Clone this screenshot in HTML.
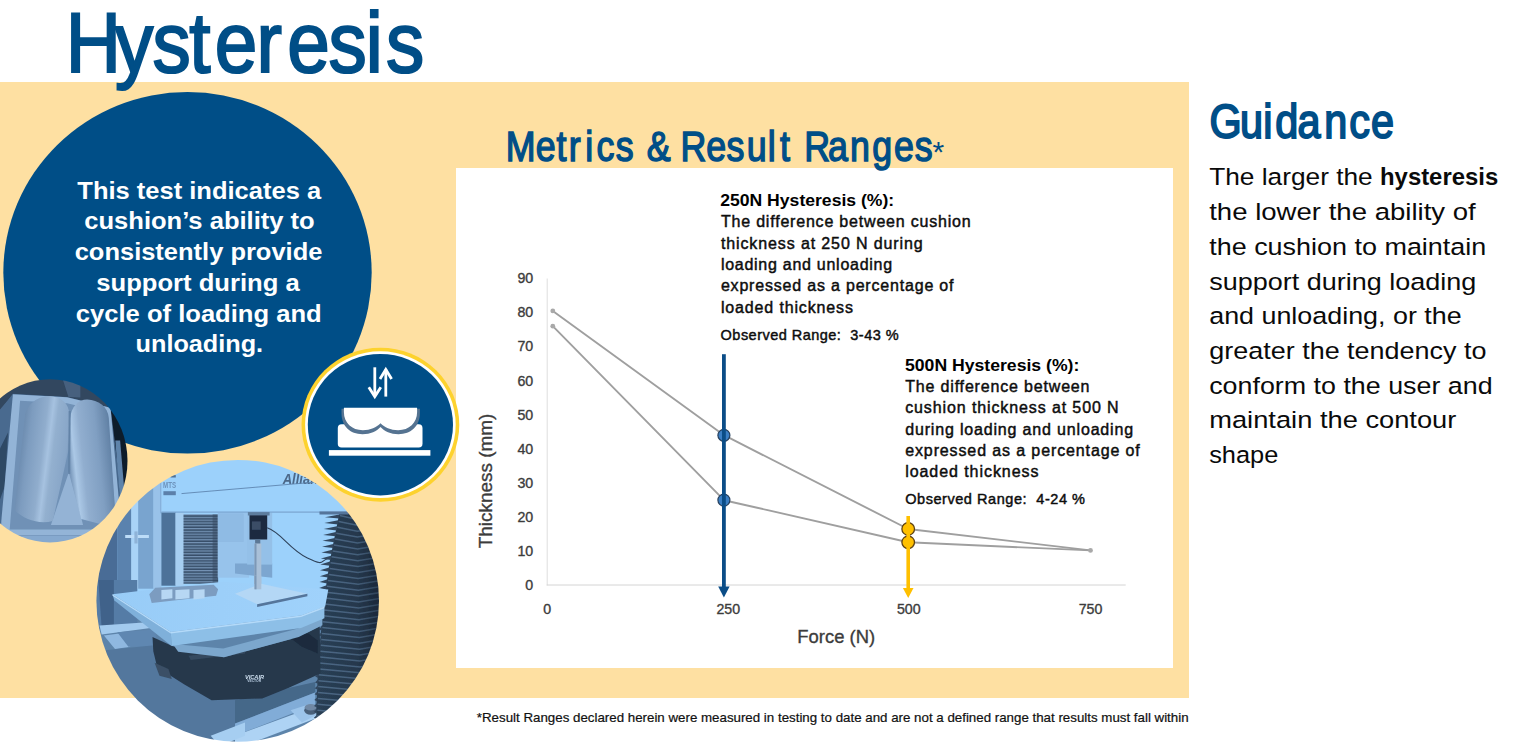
<!DOCTYPE html>
<html lang="en">
<head>
<meta charset="utf-8">
<title>Hysteresis</title>
<style>
  html, body { margin: 0; padding: 0; background: #ffffff; }
  body { width: 1536px; height: 746px; position: relative; overflow: hidden;
         font-family: "Liberation Sans", sans-serif; }
  #band { position: absolute; left: 0; top: 82px; width: 1189px; height: 615.5px; background: #fee0a2; }
  #panel { position: absolute; left: 456px; top: 168px; width: 717px; height: 499.5px; background: #ffffff; }
  svg#art { position: absolute; left: 0; top: 0; width: 1536px; height: 746px; }
  svg text { font-family: "Liberation Sans", sans-serif; }
  .din { fill: #004e87; }
  .ann { fill: #0d0d0d; stroke: #0d0d0d; stroke-width: 0.45px; }
  .annb { fill: #000000; font-weight: bold; }
  .tick { fill: #3c3c3c; }
  .cal { fill: #0a0a0a; }
  .foot { fill: #111111; stroke: #111111; stroke-width: 0.2px; }
</style>
</head>
<body>
<div id="band"></div>
<div id="panel"></div>

<svg id="art" width="1536" height="746" viewBox="0 0 1536 746">
  <!-- ===== big blue circle ===== -->
  <ellipse cx="187.5" cy="272.8" rx="184.2" ry="180.8" fill="#004e87"/>
  <!-- ===== small photo (leg-shaped indenter) ===== -->
  <defs>
    <clipPath id="clipS"><ellipse cx="50" cy="460.8" rx="77.5" ry="81.6"/></clipPath>
    <filter id="softS" x="-5%" y="-5%" width="110%" height="110%"><feGaussianBlur stdDeviation="0.5"/></filter>
    <linearGradient id="cylL" gradientUnits="userSpaceOnUse" x1="17.7" y1="453.8" x2="70.2" y2="460.3"><stop offset="0" stop-color="#6888ac"/><stop offset="0.18" stop-color="#7d9cbf"/><stop offset="0.45" stop-color="#90adcd"/><stop offset="0.56" stop-color="#a6c2e0"/><stop offset="0.66" stop-color="#93b0cf"/><stop offset="0.9" stop-color="#88a6c8"/><stop offset="1" stop-color="#7393b7"/></linearGradient>
    <linearGradient id="cylR" gradientUnits="userSpaceOnUse" x1="69.2" y1="460.3" x2="114.7" y2="455.4"><stop offset="0" stop-color="#7b9abd"/><stop offset="0.12" stop-color="#abc8e6"/><stop offset="0.3" stop-color="#91aecf"/><stop offset="0.65" stop-color="#809fc2"/><stop offset="1" stop-color="#5c7ca0"/></linearGradient>
  </defs>
  <g id="photoS" clip-path="url(#clipS)">
    <g filter="url(#softS)">
      <rect x="-30" y="375" width="165" height="175" fill="#46678c"/>
      <polygon points="0.0,370.7 139.4,370.7 139.4,429.7 110.5,407.7 67.0,397.0 12.9,393.8 0.0,410.9" fill="#30465f"/>
      <polygon points="61.7,376.1 80.4,376.1 80.4,397.5 68.4,397.0" fill="#46607e"/>
      <polygon points="0.0,409.6 12.9,394.3 1.3,523.5 0.0,523.5" fill="#4a6a8f"/>
      <polygon points="0.0,448.5 8.0,432.4 4.8,486.0 0.0,499.4" fill="#2d4865"/>
      <polygon points="110.5,407.7 139.4,429.7 139.4,526.2 122.0,526.2 118.0,467.2" fill="#101b2c"/>
      <polygon points="115.3,440.4 120.1,440.4 126.0,510.1 121.2,514.2" fill="#5f84ab"/>
      <polygon points="12.9,394.3 67.0,397.3 110.5,407.7 119.8,510.1 118.5,535.6 0.8,535.6 1.3,520.9" fill="#93b4d7"/>
      <polygon points="20.1,400.8 67.0,403.2 106.2,412.5 114.7,506.9 113.9,529.4 9.7,529.4" fill="#6f91b6"/>
      <polygon points="0.0,535.6 139.4,535.6 139.4,547.7 0.0,545.0" fill="#86a9cf"/>
      <polygon points="0.0,545.0 139.4,547.7 139.4,563.8 0.0,563.8" fill="#587ea7"/>
      <polygon points="69.2,471.3 50.9,524.9 83.1,524.9" fill="#94b3d5"/>
      <path d="M24.9 417.6 C25.5 402.9 40.2 395.7 49.9 396.2 C60.6 396.5 69.2 402.9 69.4 415.0 L68.6 449.8 L52.8 520.9 C40.2 524.6 24.1 520.1 14.5 510.1 L19.8 461.9 Z" fill="url(#cylL)"/>
      <path d="M70.2 418.4 C71.0 406.1 79.1 399.1 87.4 399.4 C98.1 399.9 107.8 406.1 108.8 417.9 L114.7 504.8 C114.2 515.5 107.8 522.5 99.2 523.8 L81.2 519.0 L69.2 473.9 Z" fill="url(#cylR)"/>
      <path d="M68.6 410.9 L70.8 410.9 L70.2 473.9 L68.1 473.9 Z" fill="#5d7da2" opacity="0.75"/>
    </g>
  </g>
  <!-- ===== large photo (universal test machine with cushion) ===== -->
  <defs>
    <clipPath id="clipL"><ellipse cx="237.7" cy="600.8" rx="141.3" ry="140.9"/></clipPath>
    <filter id="softL" x="-5%" y="-5%" width="110%" height="110%"><feGaussianBlur stdDeviation="0.55"/></filter>
    <pattern id="bellowsA" x="0" y="514" width="40" height="2.8" patternUnits="userSpaceOnUse"><rect width="40" height="2.8" fill="#384f69"/><rect y="0" width="40" height="1.25" fill="#7493b5"/></pattern>
    <pattern id="bellowsB" x="0" y="513" width="80" height="4.1" patternUnits="userSpaceOnUse" patternTransform="skewY(-6)"><rect width="80" height="4.1" fill="#2a3b50"/><rect y="0" width="80" height="1.7" fill="#6f8fb1"/></pattern>
    <linearGradient id="bellowsShade" x1="0" x2="1" y1="0" y2="0"><stop offset="0" stop-color="#1a2738" stop-opacity="0"/><stop offset="0.55" stop-color="#1a2738" stop-opacity="0.15"/><stop offset="1" stop-color="#162130" stop-opacity="0.75"/></linearGradient>
    <linearGradient id="tableTop" x1="0" x2="1" y1="0" y2="0"><stop offset="0" stop-color="#98ccf7"/><stop offset="1" stop-color="#a0d2fb"/></linearGradient>
  </defs>
  <g id="photoL" clip-path="url(#clipL)">
    <g filter="url(#softL)">
      <rect x="90" y="455" width="295" height="291" fill="#9cd1fb"/>
      <rect x="95.0" y="455.0" width="22.1" height="150.0" fill="#486c96"/>
      <rect x="117.1" y="455.0" width="14.5" height="150.0" fill="#5a82ae"/>
      <rect x="131.2" y="501.2" width="7.2" height="87.5" fill="#a9d3f7"/>
      <rect x="138.2" y="455.0" width="15.5" height="133.7" fill="#79a4cf"/>
      <rect x="153.3" y="455.0" width="8.1" height="133.7" fill="#99c2e9"/>
      <rect x="125.2" y="535.0" width="23.7" height="3.0" fill="#bcdcf8"/>
      <rect x="134.4" y="531.4" width="3.2" height="12.1" fill="#8fb3d8"/>
      <rect x="160.0" y="467.1" width="1.2" height="46.2" fill="#86b1dc"/>
      <rect x="161.4" y="512.3" width="14.4" height="73.4" fill="#4e7299"/>
      <rect x="175.4" y="512.9" width="8.5" height="72.8" fill="#a6cef1"/>
      <rect x="183.5" y="514.3" width="34.6" height="69.4" fill="url(#bellowsA)"/>
      <rect x="212.6" y="514.3" width="5.5" height="69.4" fill="#33485f" opacity="0.5"/>
      <rect x="217.7" y="512.5" width="31.4" height="65.2" fill="#97c3eb"/>
      <rect x="218.1" y="513.7" width="24.9" height="28.2" fill="#8ab6e0"/>
      <rect x="218.1" y="513.7" width="25.7" height="28.2" fill="#8fbbe4"/>
      <polygon points="235.0,563.6 272.2,563.6 272.2,577.7 235.0,573.6" fill="#7ca6d0"/>
      <rect x="247.1" y="512.5" width="25.1" height="52.1" fill="#94c0e8"/>
      <rect x="161.4" y="511.5" width="186.2" height="1.2" fill="#7aa4cf"/>
      <rect x="163.4" y="491.2" width="12.4" height="4.0" fill="#5b80aa"/>
      <rect x="170.6" y="475.1" width="5.2" height="2.4" fill="#4e7197"/>
      <text x="163.0" y="488.2" font-size="8.2" font-weight="bold" fill="#6d92bb" textLength="13" lengthAdjust="spacingAndGlyphs">MTS</text>
      <text x="282.7" y="483.8" font-size="14.5" font-style="italic" font-weight="bold" fill="#4b6788" textLength="50" lengthAdjust="spacingAndGlyphs">Alliance</text>
      <line x1="181.5" y1="493.6" x2="315.4" y2="482.1" stroke="#5f86b0" stroke-width="0.9"/>
      <rect x="247.9" y="512.1" width="21.7" height="3.4" fill="#5d7d9e"/>
      <rect x="249.5" y="515.3" width="17.7" height="24.2" fill="#1c2a3f"/>
      <rect x="251.9" y="521.4" width="8.8" height="8.4" fill="#3a4d66"/>
      <rect x="255.1" y="539.5" width="5.2" height="5.0" fill="#5c7896"/>
      <rect x="254.5" y="543.5" width="6.8" height="45.8" fill="#a9c0d8"/>
      <rect x="254.5" y="543.5" width="2.0" height="45.8" fill="#7d98b6"/>
      <path d="M267.2 527.8 C281.2 532.4 289.3 549.5 307.4 558.0 S319.5 561.2 327.9 558.4" fill="none" stroke="#2e425a" stroke-width="1.1"/>
      <polygon points="90,596 385,596 385,746 90,746" fill="#5d84aa"/>
      <polygon points="95.0,580.0 137.3,580.0 137.3,624.5 95.0,627.9" fill="#557ba6"/>
      <polygon points="98.3,580.0 113.9,580.0 113.9,624.5 101.7,627.9" fill="#41628a"/>
      <polygon points="99.5,625.6 147.3,622.3 150.6,627.9 101.7,634.5" fill="#a2caee"/>
      <polygon points="103.9,635.6 119.5,633.4 130.6,646.8 115.0,649.0" fill="#8fb8e0"/>
      <polygon points="117.3,632.3 155.1,629.4 157.3,646.8 128.4,646.8" fill="#5f87b1"/>
      <polygon points="95.0,651.2 161.8,644.5 245.0,704.6 245.0,746.0 95.0,746.0" fill="#52779d"/>
      <polygon points="235.0,700.2 315.1,681.9 315.1,692.4 235.0,723.6" fill="#456789"/>
      <polygon points="235.0,723.6 315.1,692.4 315.1,704.6 235.0,735.8" fill="#81acd7"/>
      <polygon points="235.0,735.8 301.8,711.3 328.5,713.5 235.0,749.2" fill="#aed3f4"/>
      <polygon points="210.7,735.8 245.0,722.4 245.0,735.8 219.6,746.0" fill="#a6cef1"/>
      <polygon points="290.6,710.2 308.4,704.6 319.6,713.5 301.8,722.4" fill="#9cc4ea"/>
      <ellipse cx="310.7" cy="710.2" rx="6.5" ry="4.5" fill="#4a607a"/>
      <ellipse cx="310.7" cy="707.3" rx="6" ry="3.2" fill="#6f88a4"/>
      <polygon points="339.6,512 339.0,515 330.0,560 324.0,600 321.5,625 318.0,669 316.5,705 316.1,725 390,725 390,512" fill="#2a3f55"/>
      <polygon points="339.6,512 339.0,515 330.0,560 324.0,600 321.5,625 318.0,669 316.5,705 316.1,725 390,725 390,512" fill="url(#bellowsShade)"/>
      <polygon points="339.3,514.4 324.9,517.2 339.3,518.6" fill="#31475e"/>
      <polyline points="339.8,515.5 357.0,519.4 388.0,514.5" fill="none" stroke="#52718f" stroke-width="1.5" opacity="0.85"/>
      <polygon points="338.1,520.3 324.3,523.1 338.1,524.5" fill="#31475e"/>
      <polyline points="338.6,521.4 357.1,525.3 388.0,520.4" fill="none" stroke="#52718f" stroke-width="1.5" opacity="0.85"/>
      <polygon points="336.9,526.2 323.7,529.0 336.9,530.4" fill="#31475e"/>
      <polyline points="337.4,527.3 357.3,531.2 388.0,526.3" fill="none" stroke="#52718f" stroke-width="1.5" opacity="0.85"/>
      <polygon points="335.8,532.1 323.1,534.9 335.8,536.3" fill="#31475e"/>
      <polyline points="336.3,533.2 357.4,537.1 388.0,532.2" fill="none" stroke="#52718f" stroke-width="1.5" opacity="0.85"/>
      <polygon points="334.6,538.0 322.5,540.8 334.6,542.2" fill="#31475e"/>
      <polyline points="335.1,539.1 357.5,543.0 388.0,538.1" fill="none" stroke="#52718f" stroke-width="1.5" opacity="0.85"/>
      <polygon points="333.4,543.9 322.0,546.7 333.4,548.1" fill="#31475e"/>
      <polyline points="333.9,545.0 357.6,548.9 388.0,544.0" fill="none" stroke="#52718f" stroke-width="1.5" opacity="0.85"/>
      <polygon points="332.2,549.8 321.4,552.6 332.2,554.0" fill="#31475e"/>
      <polyline points="332.7,550.9 357.7,554.8 388.0,549.9" fill="none" stroke="#52718f" stroke-width="1.5" opacity="0.85"/>
      <polygon points="331.0,555.7 320.8,558.5 331.0,559.9" fill="#31475e"/>
      <polyline points="331.5,556.8 357.8,560.7 388.0,555.8" fill="none" stroke="#52718f" stroke-width="1.5" opacity="0.85"/>
      <polygon points="330.0,561.6 320.3,564.4 330.0,565.8" fill="#31475e"/>
      <polyline points="330.5,562.7 358.0,566.6 388.0,561.7" fill="none" stroke="#52718f" stroke-width="1.5" opacity="0.85"/>
      <polygon points="329.1,567.5 320.0,570.3 329.1,571.7" fill="#31475e"/>
      <polyline points="329.6,568.6 358.1,572.5 388.0,567.6" fill="none" stroke="#52718f" stroke-width="1.5" opacity="0.85"/>
      <polygon points="328.3,573.4 319.8,576.2 328.3,577.6" fill="#31475e"/>
      <polyline points="328.8,574.5 358.2,578.4 388.0,573.5" fill="none" stroke="#52718f" stroke-width="1.5" opacity="0.85"/>
      <polygon points="327.4,579.3 319.5,582.1 327.4,583.5" fill="#31475e"/>
      <polyline points="327.9,580.4 358.3,584.3 388.0,579.4" fill="none" stroke="#52718f" stroke-width="1.5" opacity="0.85"/>
      <polygon points="326.5,585.2 319.2,588.0 326.5,589.4" fill="#31475e"/>
      <polyline points="327.0,586.3 358.4,590.2 388.0,585.3" fill="none" stroke="#52718f" stroke-width="1.5" opacity="0.85"/>
      <polygon points="325.6,591.1 318.9,593.9 325.6,595.3" fill="#31475e"/>
      <polyline points="326.1,592.2 358.6,596.1 388.0,591.2" fill="none" stroke="#52718f" stroke-width="1.5" opacity="0.85"/>
      <polygon points="324.7,597.0 318.6,599.8 324.7,601.2" fill="#31475e"/>
      <polyline points="325.2,598.1 358.7,602.0 388.0,597.1" fill="none" stroke="#52718f" stroke-width="1.5" opacity="0.85"/>
      <polygon points="324.1,602.9 318.5,605.7 324.1,607.1" fill="#31475e"/>
      <polyline points="324.6,604.0 358.8,607.9 388.0,603.0" fill="none" stroke="#52718f" stroke-width="1.5" opacity="0.85"/>
      <polygon points="323.5,608.8 318.5,611.6 323.5,613.0" fill="#31475e"/>
      <polyline points="324.0,609.9 358.9,613.8 388.0,608.9" fill="none" stroke="#52718f" stroke-width="1.5" opacity="0.85"/>
      <polygon points="322.9,614.7 318.5,617.5 322.9,618.9" fill="#31475e"/>
      <polyline points="323.4,615.8 359.0,619.7 388.0,614.8" fill="none" stroke="#52718f" stroke-width="1.5" opacity="0.85"/>
      <polygon points="322.3,620.6 318.5,623.4 322.3,624.8" fill="#31475e"/>
      <polyline points="322.8,621.7 359.1,625.6 388.0,620.7" fill="none" stroke="#52718f" stroke-width="1.5" opacity="0.85"/>
      <polygon points="321.8,626.5 318.6,629.3 321.8,630.7" fill="#31475e"/>
      <polyline points="322.3,627.6 359.3,631.5 388.0,626.6" fill="none" stroke="#52718f" stroke-width="1.5" opacity="0.85"/>
      <polygon points="321.3,632.4 318.3,635.2 321.3,636.6" fill="#31475e"/>
      <polyline points="321.8,633.5 359.4,637.4 388.0,632.5" fill="none" stroke="#52718f" stroke-width="1.5" opacity="0.85"/>
      <polygon points="320.8,638.3 317.8,641.1 320.8,642.5" fill="#31475e"/>
      <polyline points="321.3,639.4 359.5,643.3 388.0,638.4" fill="none" stroke="#52718f" stroke-width="1.5" opacity="0.85"/>
      <polygon points="320.3,644.2 317.3,647.0 320.3,648.4" fill="#31475e"/>
      <polyline points="320.8,645.3 359.6,649.2 388.0,644.3" fill="none" stroke="#52718f" stroke-width="1.5" opacity="0.85"/>
      <polygon points="319.9,650.1 316.9,652.9 319.9,654.3" fill="#31475e"/>
      <polyline points="320.4,651.2 359.7,655.1 388.0,650.2" fill="none" stroke="#52718f" stroke-width="1.5" opacity="0.85"/>
      <polygon points="319.4,656.0 316.4,658.8 319.4,660.2" fill="#31475e"/>
      <polyline points="319.9,657.1 359.9,661.0 388.0,656.1" fill="none" stroke="#52718f" stroke-width="1.5" opacity="0.85"/>
      <polygon points="318.9,661.9 315.9,664.7 318.9,666.1" fill="#31475e"/>
      <polyline points="319.4,663.0 360.0,666.9 388.0,662.0" fill="none" stroke="#52718f" stroke-width="1.5" opacity="0.85"/>
      <polygon points="318.5,667.8 315.5,670.6 318.5,672.0" fill="#31475e"/>
      <polyline points="319.0,668.9 360.1,672.8 388.0,667.9" fill="none" stroke="#52718f" stroke-width="1.5" opacity="0.85"/>
      <polygon points="318.2,673.7 315.2,676.5 318.2,677.9" fill="#31475e"/>
      <polyline points="318.7,674.8 360.2,678.7 388.0,673.8" fill="none" stroke="#52718f" stroke-width="1.5" opacity="0.85"/>
      <polygon points="318.0,679.6 315.0,682.4 318.0,683.8" fill="#31475e"/>
      <polyline points="318.5,680.7 360.3,684.6 388.0,679.7" fill="none" stroke="#52718f" stroke-width="1.5" opacity="0.85"/>
      <polygon points="317.7,685.5 314.7,688.3 317.7,689.7" fill="#31475e"/>
      <polyline points="318.2,686.6 360.4,690.5 388.0,685.6" fill="none" stroke="#52718f" stroke-width="1.5" opacity="0.85"/>
      <polygon points="317.5,691.4 314.5,694.2 317.5,695.6" fill="#31475e"/>
      <polyline points="318.0,692.5 360.6,696.4 388.0,691.5" fill="none" stroke="#52718f" stroke-width="1.5" opacity="0.85"/>
      <polygon points="317.3,697.3 314.3,700.1 317.3,701.5" fill="#31475e"/>
      <polyline points="317.8,698.4 360.7,702.3 388.0,697.4" fill="none" stroke="#52718f" stroke-width="1.5" opacity="0.85"/>
      <polygon points="317.0,703.2 314.0,706.0 317.0,707.4" fill="#31475e"/>
      <polyline points="317.5,704.3 360.8,708.2 388.0,703.3" fill="none" stroke="#52718f" stroke-width="1.5" opacity="0.85"/>
      <polygon points="316.9,709.1 313.9,711.9 316.9,713.3" fill="#31475e"/>
      <polyline points="317.4,710.2 360.9,714.1 388.0,709.2" fill="none" stroke="#52718f" stroke-width="1.5" opacity="0.85"/>
      <polygon points="316.8,715.0 313.8,717.8 316.8,719.2" fill="#31475e"/>
      <polyline points="317.3,716.1 361.0,720.0 388.0,715.1" fill="none" stroke="#52718f" stroke-width="1.5" opacity="0.85"/>
      <polygon points="339.6,512 339.0,515 330.0,560 324.0,600 321.5,625 318.0,669 316.5,705 316.1,725 390,725 390,512" fill="url(#bellowsShade)"/>
      <rect x="319.5" y="511.5" width="29.1" height="3.0" fill="#54759a"/>
      <polygon points="152.5,637.0 172.8,646.3 223.3,657.2 298.7,637.0 319.7,626.1 320.5,673.5 289.4,687.5 262.2,698.4 211.6,700.3 184.4,684.4 157.2,667.3 153.3,651.3" fill="#26384c"/>
      <polygon points="288.4,632.5 308.4,633.4 317.8,640.5 317.8,653.4 301.8,646.8 290.6,638.3" fill="#1b2b3d"/>
      <polygon points="154.6,662.8 168.4,669.0 171.8,679.0 159.5,675.7" fill="#3a4f66"/>
      <polygon points="188.5,655.7 245.0,649.0 245.0,653.4 190.7,660.1" fill="#34495f"/>
      <text x="245.0" y="678.8" font-size="5.6" font-weight="bold" font-style="italic" fill="#cfe0f0" textLength="19" lengthAdjust="spacingAndGlyphs">VICAIR</text>
      <text x="247.2" y="681.5" font-size="2.6" font-weight="bold" fill="#b8cce0" textLength="14" lengthAdjust="spacingAndGlyphs">VECTOR</text>
      <polygon points="172.8,644.0 223.3,648.6 298.0,628.4 322.4,618.3 322.4,625.3 298.7,637.0 224.1,657.2 178.2,651.7" fill="#7ba7cd"/>
      <polygon points="112.5,594.2 170.8,631.9 171.6,645.9 114.4,600.4" fill="#7fb0da"/>
      <polygon points="170.8,631.9 301.1,615.6 324.4,606.6 324.4,618.3 301.1,628.0 171.6,645.9" fill="#8dbfe7"/>
      <polygon points="112.5,594.2 184.4,585.6 223.3,581.7 328.3,589.5 325.2,606.6 301.1,615.6 170.8,631.9" fill="url(#tableTop)"/>
      <polygon points="112.5,594.2 170.8,631.9 170.8,633.5 112.5,595.7" fill="#b4daf9"/>
      <polygon points="170.8,631.9 301.1,615.6 324.4,606.6 324.4,608.2 301.1,617.1 170.8,633.5" fill="#b4daf9"/>
      <polygon points="235.0,593.7 261.1,583.7 307.4,593.7 257.1,604.2" fill="#b4d7f5"/>
      <polygon points="257.1,604.2 307.4,593.7 307.4,596.2 257.1,607.0" fill="#54749a"/>
      <rect x="254.5" y="575.7" width="6.8" height="13.6" fill="#a9c0d8"/>
      <rect x="254.5" y="575.7" width="2.0" height="13.6" fill="#7d98b6"/>
      <polygon points="149.3,594.2 155.3,587.7 213.6,584.7 218.1,589.3 216.1,595.8 151.7,603.0" fill="#7b9cc0"/>
      <polygon points="161.4,590.1 172.4,589.3 172.4,598.2 161.4,599.4" fill="#b7d7f3"/>
      <polygon points="175.4,590.1 189.5,589.3 189.5,598.2 175.4,599.4" fill="#b7d7f3"/>
      <polygon points="193.5,590.1 204.6,589.3 204.6,598.2 193.5,599.4" fill="#b7d7f3"/>
    </g>
  </g>
  <!-- ===== icon badge ===== -->
  <g id="badge">
    <ellipse cx="380.4" cy="424.7" rx="78.9" ry="77" fill="#fdd22e"/>
    <ellipse cx="380.4" cy="424.7" rx="75.3" ry="73.4" fill="#ffffff"/>
    <ellipse cx="380.4" cy="424.7" rx="72.6" ry="70.7" fill="#004e87"/>
    <g stroke="#ffffff" stroke-width="2.8" fill="none" stroke-linecap="butt" stroke-linejoin="miter">
      <path d="M374.8 367.3 V396"/>
      <path d="M368.8 387.2 L374.8 396.6 L380.8 387.2"/>
      <path d="M385.8 396.6 V369.5"/>
      <path d="M380 378.9 L385.8 369.4 L391.6 378.9"/>
    </g>
    <rect x="328.9" y="450.1" width="101.5" height="5.6" fill="#ffffff"/>
    <rect x="337.8" y="424.2" width="84.7" height="23.3" rx="3.8" ry="3.8" fill="#ffffff"/>
    <path d="M341.5 408.8 H419.9 V413 C419.9 426 411 434.2 398.5 434.2 C390.5 434.2 384.5 431.5 380.5 427 C376.5 431.5 370.5 434.2 362.5 434.2 C350 434.2 341.5 426 341.5 413 Z" fill="#557391"/>
    <path d="M343.9 407.8 H417.1 V412 C417.1 423 409 430.2 398.2 430.2 C390.5 430.2 384.5 427.5 380.5 423.3 C376.5 427.5 370.5 430.2 362.8 430.2 C352 430.2 343.9 423 343.9 412 Z" fill="#ffffff"/>
  </g>
  <!-- ===== chart ===== -->
  <g id="chart">
    <line x1="547.2" y1="278.5" x2="547.2" y2="585.4" stroke="#dedede" stroke-width="1"/>
    <line x1="546.7" y1="585" x2="1125.7" y2="585" stroke="#d4d4d4" stroke-width="1"/>
    <g fill="none" stroke="#9f9f9f" stroke-width="1.9" stroke-linejoin="round" stroke-linecap="round">
      <polyline points="552.8,310.9 724,435.2 908.2,529 1090.5,550.4"/>
      <polyline points="552.8,326.2 724,500.2 908.2,542.3 1090.5,550.4"/>
    </g>
    <g fill="#a9a9a9">
      <circle cx="552.8" cy="310.9" r="2.4"/>
      <circle cx="552.8" cy="326.2" r="2.4"/>
      <circle cx="1090.5" cy="550.4" r="2.4"/>
    </g>
    <g>
      <circle cx="723.9" cy="435.3" r="6" fill="#3b7fc4" stroke="#26405e" stroke-width="1.2"/>
      <circle cx="723.9" cy="500.1" r="6" fill="#3b7fc4" stroke="#26405e" stroke-width="1.2"/>
      <line x1="723.9" y1="354.2" x2="723.9" y2="589" stroke="#0b4d87" stroke-width="3.8"/>
      <path d="M718.2 586.6 H729.6 L723.9 597.4 Z" fill="#0b4d87"/>
    </g>
    <g>
      <circle cx="908.2" cy="528.9" r="6.3" fill="#ffc000" stroke="#5e4215" stroke-width="1.3"/>
      <circle cx="908.2" cy="542.3" r="6.3" fill="#ffc000" stroke="#5e4215" stroke-width="1.3"/>
      <line x1="908.2" y1="516" x2="908.2" y2="590" stroke="#ffc000" stroke-width="3.6"/>
      <path d="M902.9 588 H913.5 L908.2 598 Z" fill="#ffc000"/>
    </g>
  </g>
  <!-- ===== text ===== -->
  <g id="texts">
    <text transform="scale(0.9 1)" x="73.1 127.7 169.4 210.4 238.5 285 319.1 364.9 406.4 428.9" y="72.3" font-size="85" class="din" stroke="#004e87" stroke-width="2.1">Hysteresis</text>
    <text transform="scale(0.832 1)" x="607.8 643.9 668.8 683.6 703.5 716.8 740.2 762.8 777.4 801.7 818.0 848.8 873.3 897.6 922.8 937.6 956.1 966.6 995.2 1021.5 1048.3 1074.4 1099.6" y="160.6" font-size="43" class="din" stroke="#004e87" stroke-width="1.5">Metrics &amp; Result Ranges</text>
    <text x="932.6" y="161.5" font-size="30" class="din">*</text>
    <text transform="scale(0.854 1)" x="1416.3 1451.9 1479.1 1493.2 1519.4 1550.6 1579.8 1605.5" y="138.3" font-size="48.5" class="din" stroke="#004e87" stroke-width="1.9">Guidance</text>
    <text x="1209.2" y="185.3" font-size="24.5" textLength="163.5" lengthAdjust="spacingAndGlyphs" class="cal">The larger the</text>
    <text x="1380.0" y="185.3" font-size="24.5" textLength="118.2" lengthAdjust="spacingAndGlyphs" class="cal" font-weight="bold">hysteresis</text>
    <text x="1209.2" y="220.0" font-size="24.5" textLength="266.6" lengthAdjust="spacingAndGlyphs" class="cal">the lower the ability of</text>
    <text x="1209.2" y="254.8" font-size="24.5" textLength="277.1" lengthAdjust="spacingAndGlyphs" class="cal">the cushion to maintain</text>
    <text x="1209.2" y="289.5" font-size="24.5" textLength="267.0" lengthAdjust="spacingAndGlyphs" class="cal">support during loading</text>
    <text x="1209.2" y="324.2" font-size="24.5" textLength="252.5" lengthAdjust="spacingAndGlyphs" class="cal">and unloading, or the</text>
    <text x="1209.2" y="359.0" font-size="24.5" textLength="277.4" lengthAdjust="spacingAndGlyphs" class="cal">greater the tendency to</text>
    <text x="1209.2" y="393.7" font-size="24.5" textLength="283.4" lengthAdjust="spacingAndGlyphs" class="cal">conform to the user and</text>
    <text x="1209.2" y="428.4" font-size="24.5" textLength="247.2" lengthAdjust="spacingAndGlyphs" class="cal">maintain the contour</text>
    <text x="1209.2" y="463.1" font-size="24.5" textLength="69.1" lengthAdjust="spacingAndGlyphs" class="cal">shape</text>
    <text x="77.3" y="198.8" font-size="23.6" font-weight="bold" fill="#ffffff" textLength="243.8" lengthAdjust="spacingAndGlyphs">This test indicates a</text>
    <text x="84.3" y="229.4" font-size="23.6" font-weight="bold" fill="#ffffff" textLength="230.4" lengthAdjust="spacingAndGlyphs">cushion’s ability to</text>
    <text x="74.7" y="260.2" font-size="23.6" font-weight="bold" fill="#ffffff" textLength="247.7" lengthAdjust="spacingAndGlyphs">consistently provide</text>
    <text x="96.3" y="290.8" font-size="23.6" font-weight="bold" fill="#ffffff" textLength="203.4" lengthAdjust="spacingAndGlyphs">support during a</text>
    <text x="75.8" y="321.6" font-size="23.6" font-weight="bold" fill="#ffffff" textLength="245.9" lengthAdjust="spacingAndGlyphs">cycle of loading and</text>
    <text x="135.6" y="352.2" font-size="23.6" font-weight="bold" fill="#ffffff" textLength="127.5" lengthAdjust="spacingAndGlyphs">unloading.</text>
    <text x="476.8" y="722.3" font-size="12.4" textLength="711.8" lengthAdjust="spacingAndGlyphs" class="foot">*Result Ranges declared herein were measured in testing to date and are not a defined range that results must fall within</text>
    <text x="533.2" y="589.9" font-size="14.2" text-anchor="end" class="tick" stroke="#3c3c3c" stroke-width="0.35">0</text>
    <text x="533.2" y="555.8" font-size="14.2" text-anchor="end" class="tick" stroke="#3c3c3c" stroke-width="0.35">10</text>
    <text x="533.2" y="521.8" font-size="14.2" text-anchor="end" class="tick" stroke="#3c3c3c" stroke-width="0.35">20</text>
    <text x="533.2" y="487.7" font-size="14.2" text-anchor="end" class="tick" stroke="#3c3c3c" stroke-width="0.35">30</text>
    <text x="533.2" y="453.6" font-size="14.2" text-anchor="end" class="tick" stroke="#3c3c3c" stroke-width="0.35">40</text>
    <text x="533.2" y="419.5" font-size="14.2" text-anchor="end" class="tick" stroke="#3c3c3c" stroke-width="0.35">50</text>
    <text x="533.2" y="385.5" font-size="14.2" text-anchor="end" class="tick" stroke="#3c3c3c" stroke-width="0.35">60</text>
    <text x="533.2" y="351.4" font-size="14.2" text-anchor="end" class="tick" stroke="#3c3c3c" stroke-width="0.35">70</text>
    <text x="533.2" y="317.3" font-size="14.2" text-anchor="end" class="tick" stroke="#3c3c3c" stroke-width="0.35">80</text>
    <text x="533.2" y="283.3" font-size="14.2" text-anchor="end" class="tick" stroke="#3c3c3c" stroke-width="0.35">90</text>
    <text x="547.1" y="614.4" font-size="14.2" text-anchor="middle" class="tick" stroke="#3c3c3c" stroke-width="0.35">0</text>
    <text x="728.3" y="614.4" font-size="14.2" text-anchor="middle" class="tick" stroke="#3c3c3c" stroke-width="0.35">250</text>
    <text x="908.8" y="614.4" font-size="14.2" text-anchor="middle" class="tick" stroke="#3c3c3c" stroke-width="0.35">500</text>
    <text x="1090.5" y="614.4" font-size="14.2" text-anchor="middle" class="tick" stroke="#3c3c3c" stroke-width="0.35">750</text>
    <text x="797.3" y="642.5" font-size="19" textLength="77.8" lengthAdjust="spacingAndGlyphs" class="tick" stroke="#3c3c3c" stroke-width="0.35">Force (N)</text>
    <text transform="translate(491.9 548.3) rotate(-90)" font-size="18.6" textLength="134.6" lengthAdjust="spacingAndGlyphs" class="tick" stroke="#3c3c3c" stroke-width="0.35">Thickness (mm)</text>
    <text x="720.2" y="205.6" font-size="17.3" textLength="174.0" lengthAdjust="spacingAndGlyphs" class="annb">250N Hysteresis (%):</text>
    <text x="720.9" y="227.1" font-size="16" textLength="249.8" lengthAdjust="spacing" class="ann">The difference between cushion</text>
    <text x="720.9" y="248.5" font-size="16" textLength="201.8" lengthAdjust="spacing" class="ann">thickness at 250 N during</text>
    <text x="720.9" y="270.0" font-size="16" textLength="171.2" lengthAdjust="spacing" class="ann">loading and unloading</text>
    <text x="720.9" y="291.3" font-size="16" textLength="232.6" lengthAdjust="spacing" class="ann">expressed as a percentage of</text>
    <text x="720.9" y="312.5" font-size="16" textLength="132.0" lengthAdjust="spacing" class="ann">loaded thickness</text>
    <text x="720.6" y="339.5" font-size="14.5" textLength="178.0" lengthAdjust="spacing" class="ann" xml:space="preserve">Observed Range:  3-43 %</text>
    <text x="905.0" y="370.6" font-size="17.3" textLength="174.3" lengthAdjust="spacingAndGlyphs" class="annb">500N Hysteresis (%):</text>
    <text x="905.2" y="392.0" font-size="16" textLength="184.3" lengthAdjust="spacing" class="ann">The difference between</text>
    <text x="905.2" y="412.9" font-size="16" textLength="213.4" lengthAdjust="spacing" class="ann">cushion thickness at 500 N</text>
    <text x="905.2" y="434.5" font-size="16" textLength="227.9" lengthAdjust="spacing" class="ann">during loading and unloading</text>
    <text x="905.2" y="455.8" font-size="16" textLength="234.6" lengthAdjust="spacing" class="ann">expressed as a percentage of</text>
    <text x="905.2" y="476.7" font-size="16" textLength="133.2" lengthAdjust="spacing" class="ann">loaded thickness</text>
    <text x="905.2" y="504.2" font-size="14.5" textLength="179.8" lengthAdjust="spacing" class="ann" xml:space="preserve">Observed Range:  4-24 %</text>
  </g>
</svg>
</body>
</html>
